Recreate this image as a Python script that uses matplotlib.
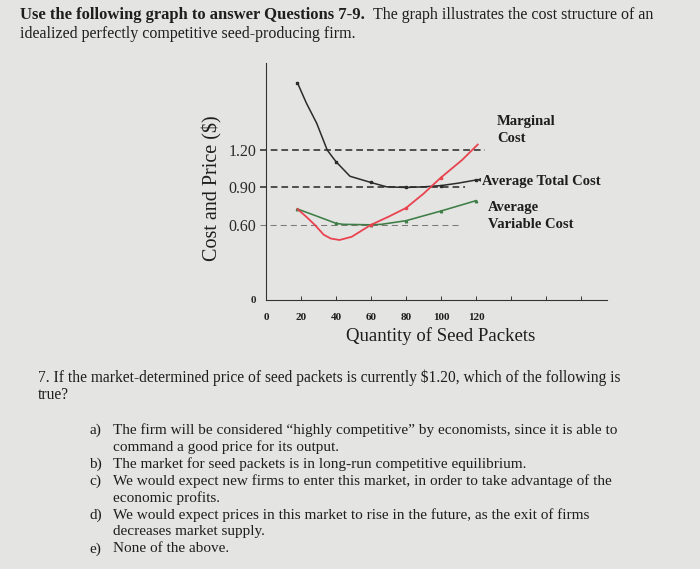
import matplotlib
matplotlib.use('Agg')
import matplotlib.pyplot as plt

# values (quantity of seed packets, $ per packet)
atc_q = [18, 23, 29, 35, 40, 48, 60, 69, 80, 90, 100, 110, 120]
atc = [1.74, 1.58, 1.415, 1.20, 1.107, 0.99, 0.94, 0.905, 0.90, 0.905, 0.915, 0.935, 0.96]

avc_q = [18, 29, 40, 44, 60, 66, 80, 100, 120]
avc = [0.727, 0.67, 0.612, 0.604, 0.60, 0.604, 0.633, 0.711, 0.794]

mc_q = [18, 23, 28, 33, 37, 42, 49, 60, 70, 80, 90, 100, 112, 121]
mc = [0.727, 0.665, 0.598, 0.52, 0.49, 0.478, 0.504, 0.60, 0.665, 0.735, 0.85, 0.98, 1.12, 1.245]

price_levels = [0.60, 0.90, 1.20]
x_ticks = [0, 20, 40, 60, 80, 100, 120, 140, 160, 180]
x_tick_labels = ['0', '20', '40', '60', '80', '100', '120', '', '', '']

title_bold = 'Use the following graph to answer Questions 7-9.'
title_rest = 'The graph illustrates the cost structure of an'
title_line2 = 'idealized perfectly competitive seed-producing firm.'
question = ['7. If the market-determined price of seed packets is currently $1.20, which of the following is',
            'true?']
options = [
    ('a)', ['The firm will be considered \u201chighly competitive\u201d by economists, since it is able to',
            'command a good price for its output.']),
    ('b)', ['The market for seed packets is in long-run competitive equilibrium.']),
    ('c)', ['We would expect new firms to enter this market, in order to take advantage of the',
            'economic profits.']),
    ('d)', ['We would expect prices in this market to rise in the future, as the exit of firms',
            'decreases market supply.']),
    ('e)', ['None of the above.']),
]

BG = '#e4e4e2'
INK = '#1e1e1e'
SERIF = 'Liberation Serif'
W, H = 700, 569


def px(x, y):
    # pixel position in the picture -> figure fraction
    return x / W, 1 - y / H


fig = plt.figure(figsize=(7, 5.69), dpi=100, facecolor=BG)

# chart area
ax = fig.add_axes([266 / W, 1 - 299.5 / H, 340.7 / W, 236.5 / H])
ax.set_facecolor('none')
ax.set_xlim(0, 194.7)
ax.set_ylim(0, 1.90)
for side in ['top', 'right']:
    ax.spines[side].set_visible(False)
for side in ['left', 'bottom']:
    ax.spines[side].set_color('#333333')
    ax.spines[side].set_linewidth(0.8)

# price reference lines
ends = [112, 114, 125]
for level, end in zip(price_levels, ends):
    if level == 0.60:
        ax.plot([-3.4, end], [level, level], color='#7a7a7a', lw=0.75,
                ls=(0, (5.8, 3.9)), clip_on=False)
    else:
        ax.plot([-3.4, end], [level, level], color='#262626', lw=1.1,
                ls=(0, (4.4, 2.6)), clip_on=False)

ax.plot(atc_q, atc, color='#2b2b2b', lw=1.1, marker='s', ms=1.6,
        markevery=[0, 4, 6, 8, 10, 12])
ax.plot(avc_q, avc, color='#3d7d46', lw=1.15, marker='^', ms=1.8,
        markevery=[0, 2, 4, 6, 7, 8])
ax.plot(mc_q, mc, color='#e8434f', lw=1.3, marker='o', ms=1.6,
        markevery=[7, 9, 11])

ax.set_xticks(x_ticks)
ax.set_xticklabels(x_tick_labels, fontfamily=SERIF, fontweight='bold',
                   fontsize=8, color=INK)
ax.tick_params(axis='x', direction='in', length=3, width=0.7, pad=9.5,
               color='#333333')

ax.set_yticks([0] + price_levels)
ax.set_yticklabels(['0', '0.60', '0.90', '1.20'], fontfamily=SERIF,
                   fontsize=11.5, color='#2a2a2a')
ax.get_yticklabels()[0].set_fontweight('bold')
ax.get_yticklabels()[0].set_fontsize(8)
ax.tick_params(axis='y', length=0, pad=7)

ax.set_xlabel('Quantity of Seed Packets', fontfamily=SERIF, fontsize=13.5,
              color=INK, va='center')
ax.xaxis.set_label_coords(0.513, -0.154)
ax.set_ylabel('Cost and Price ($)', fontfamily=SERIF, fontsize=14.5,
              color=INK, va='center')
ax.yaxis.set_label_coords(-0.156, 0.47)

# curve names
lab = dict(fontfamily=SERIF, fontweight='bold', fontsize=10.5, color=INK,
           transform=fig.transFigure, va='center', ha='left')
fig.text(*px(497, 121), 'Marginal', **lab)
fig.text(*px(497, 138), 'Cost', **lab)
ax.annotate('Average Total Cost', xy=(120.5, 0.962), xytext=px(482, 181),
            textcoords='figure fraction', va='center', ha='left',
            fontfamily=SERIF, fontweight='bold', fontsize=10.5, color=INK,
            arrowprops=dict(arrowstyle='-|>', color='#2b2b2b', lw=0.6,
                            mutation_scale=5, shrinkA=0, shrinkB=0))
fig.text(*px(488, 208), 'Average', **lab)
fig.text(*px(488, 224), 'Variable Cost', **lab)

# question text around the chart
txt = dict(fontfamily=SERIF, color=INK, va='center', ha='left',
           transform=fig.transFigure)
fig.text(*px(20, 15), title_bold, fontweight='bold', fontsize=12, **txt)
fig.text(*px(373, 15), title_rest, fontsize=11.5, **txt)
fig.text(*px(20, 34), title_line2, fontsize=11.5, **txt)

fig.text(*px(38, 378), question[0], fontsize=11.2, **txt)
fig.text(*px(38, 395), question[1], fontsize=11.2, **txt)

y = 430
for letter, lines in options:
    fig.text(*px(89, y), letter, fontsize=11, **txt)
    for line in lines:
        fig.text(*px(113, y), line, fontsize=11, **txt)
        y += 17

fig.savefig('out.png', dpi=100, facecolor=BG)
